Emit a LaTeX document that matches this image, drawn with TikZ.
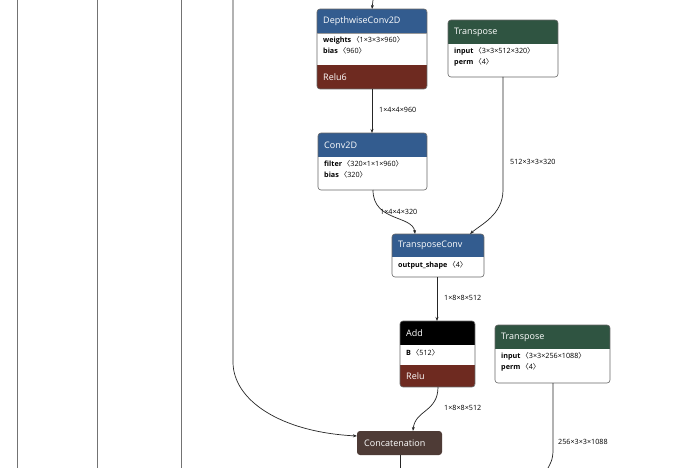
\documentclass[tikz,border=0pt]{standalone}
\usepackage{fontspec}
\setmainfont{Open Sans}
\newfontfamily\cjk{Noto Sans CJK SC}
\usetikzlibrary{arrows.meta}
\definecolor{hblue}{HTML}{335C8F}
\definecolor{hgreen}{HTML}{2F5441}
\definecolor{hred}{HTML}{6E2A20}
\definecolor{hbrown}{HTML}{4E3B36}
\newcommand{\lb}{{\cjk 〈}}
\newcommand{\rb}{{\cjk 〉}}
\tikzset{
  boxn/.style={anchor=north west,inner sep=0pt,outer sep=0pt},
  htext/.style={anchor=west,text=white,font=\fontsize{9}{10}\selectfont,inner sep=0pt},
  btext/.style={anchor=north west,font=\fontsize{7.2}{11}\selectfont,inner sep=0pt,align=left},
  edge/.style={draw=black!85,line width=0.7pt,-{Stealth[length=4pt,width=3pt]}},
  elabel/.style={font=\fontsize{7.2}{8}\selectfont,anchor=west,inner sep=0pt},
  bgline/.style={draw=black!55,line width=0.9pt},
  outl/.style={draw=black!60,line width=0.6pt,rounded corners=3pt}
}
% \nbox{name}{x}{y}{w}{h}
\newcommand{\nbox}[5]{\node[boxn,minimum width=#4pt,minimum height=#5pt] (#1) at (#2,#3) {};}
\begin{document}
\begin{tikzpicture}[x=1pt,y=-1pt]
\useasboundingbox (0,0) rectangle (688,468);
\fill[white] (0,0) rectangle (688,468);
% background lines
\draw[bgline] (17,0) -- (17,468);
\draw[bgline] (97,0) -- (97,468);
\draw[bgline] (181,0) -- (181,468);
% boxes
\nbox{dw}{317}{9}{110}{80}
\nbox{tp}{448}{20}{110}{57}
\nbox{cv}{318}{133}{109}{57}
\nbox{tc}{392}{234}{92}{43}
\nbox{ad}{400}{321}{75}{66}
\nbox{tq}{495}{325}{115}{58}
\nbox{cc}{357}{431}{85}{24}
\coordinate (top) at (373,0);
\coordinate (lft) at (233,0);
\coordinate (b1) at (400,468);
\coordinate (b2) at (548,468);
% fills
\begin{scope}\clip[rounded corners=3pt] (317,9) rectangle (427,89);
\fill[hblue] (317,9) rectangle (427,33); \fill[white] (317,33) rectangle (427,65); \fill[hred] (317,65) rectangle (427,89);
\end{scope}
\draw[outl] (317,9) rectangle (427,89); \draw[black!40] (317,33)--(427,33);
\begin{scope}\clip[rounded corners=3pt] (448,20) rectangle (558,77);
\fill[hgreen] (448,20) rectangle (558,44); \fill[white] (448,44) rectangle (558,77);
\end{scope}
\draw[outl] (448,20) rectangle (558,77);
\begin{scope}\clip[rounded corners=3pt] (318,133) rectangle (427,190);
\fill[hblue] (318,133) rectangle (427,157); \fill[white] (318,157) rectangle (427,190);
\end{scope}
\draw[outl] (318,133) rectangle (427,190);
\begin{scope}\clip[rounded corners=3pt] (392,234) rectangle (484,277);
\fill[hblue] (392,234) rectangle (484,257); \fill[white] (392,257) rectangle (484,277);
\end{scope}
\draw[outl] (392,234) rectangle (484,277);
\begin{scope}\clip[rounded corners=3pt] (400,321) rectangle (475,387);
\fill[black] (400,321) rectangle (475,345); \fill[white] (400,345) rectangle (475,365); \fill[hred] (400,365) rectangle (475,387);
\end{scope}
\draw[outl] (400,321) rectangle (475,387);
\begin{scope}\clip[rounded corners=3pt] (495,325) rectangle (610,383);
\fill[hgreen] (495,325) rectangle (610,349); \fill[white] (495,349) rectangle (610,383);
\end{scope}
\draw[outl] (495,325) rectangle (610,383);
\fill[hbrown,rounded corners=3pt] (357,431) rectangle (442,455);
% texts
\node[htext] (dwh) at (323,21) {DepthwiseConv2D};
\node[btext] (dwb) at (323,36.5) {\textbf{weights}\,\lb1×3×3×960\rb\\\textbf{bias}\,\lb960\rb};
\node[htext] (dwr) at (323,77) {Relu6};
\node[htext] (tph) at (454,32) {Transpose};
\node[btext] (tpb) at (454,47.5) {\textbf{input}\,\lb3×3×512×320\rb\\\textbf{perm}\,\lb4\rb};
\node[htext] (cvh) at (324,145) {Conv2D};
\node[btext] (cvb) at (324,160.5) {\textbf{filter}\,\lb320×1×1×960\rb\\\textbf{bias}\,\lb320\rb};
\node[htext] (tch) at (398,245.5) {TransposeConv};
\node[btext] (tcb) at (398,261) {\textbf{output\_shape}\,\lb4\rb};
\node[htext] (adh) at (406,333) {Add};
\node[btext] (adb) at (406,349) {\textbf{B}\,\lb512\rb};
\node[htext] (adr) at (406,376) {Relu};
\node[htext] (tqh) at (501,337) {Transpose};
\node[btext] (tqb) at (501,352.5) {\textbf{input}\,\lb3×3×256×1088\rb\\\textbf{perm}\,\lb4\rb};
\node[htext] (cch) at (364,443) {Concatenation};
% edges
\draw[edge] (top) -- (dw.north);
\draw[edge] (dw.south) -- (cv.north -| dw.south);
\draw[edge] (373,190) .. controls (373,222) and (413,215) .. (415,234);
\draw[edge] (503,77) -- (503,190) .. controls (503,215) and (480,225) .. (470,234);
\draw[edge] (437,277) -- (437,321);
\draw[edge] (438,387) .. controls (438,412) and (415,410) .. (413,431);
\draw[edge] (lft) -- (233,362) .. controls (233,400) and (280,432) .. (357,436);
\draw[draw=black!85,line width=0.7pt] (553,383) -- (553,450) .. controls (553,460) and (550,464) .. (b2);
\draw[draw=black!85,line width=0.7pt] (cc.south -| b1) -- (b1);
% labels
\node[elabel] (l1) at (379,110) {1×4×4×960};
\node[elabel] (l2) at (380,212) {1×4×4×320};
\node[elabel] (l3) at (510,162) {512×3×3×320};
\node[elabel] (l4) at (444,298) {1×8×8×512};
\node[elabel] (l5) at (444,408) {1×8×8×512};
\node[elabel] (l6) at (558,442) {256×3×3×1088};
\end{tikzpicture}
\end{document}
